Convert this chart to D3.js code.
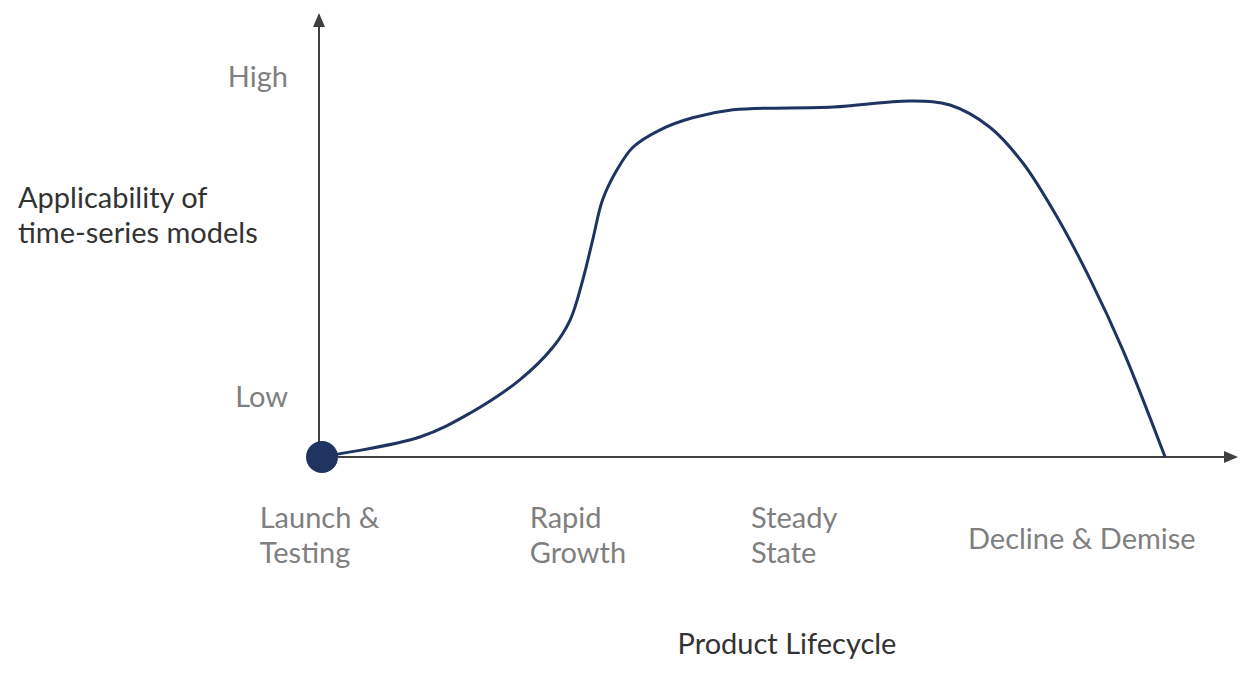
<!DOCTYPE html>
<html>
<head>
<meta charset="utf-8">
<script src="https://cdn.jsdelivr.net/npm/d3@7"></script>
<style>
  body { margin: 0; background: #fff; }
  text { font-family: Lato, "Open Sans", sans-serif; }
</style>
</head>
<body>
<div id="chart"></div>
<script>
// lifecycle curve, x = time (stage units), y = applicability (0..10)
var curveX = [0, 1.11, 1.67, 2.22, 2.59, 2.78, 2.92, 3.03, 3.14, 3.30, 3.48, 3.78, 4.14, 4.59, 5.70, 6.56, 7.0, 7.44, 7.81, 8.19, 8.56, 8.92, 9.39]
var curveY = [0, 0.5, 1.1, 1.93, 2.75, 3.43, 4.43, 5.43, 6.43, 7.18, 7.75, 8.18, 8.48, 8.68, 8.75, 8.9, 8.8, 8.25, 7.35, 6.0, 4.43, 2.68, 0]

var stages = [["Launch &", "Testing"], ["Rapid", "Growth"], ["Steady", "State"], ["Decline & Demise"]]
var stageAt = [-0.67, 2.33, 4.79, 7.2]

var levelLabels = ["Low", "High"]
var levelValues = [1.5, 9.5]

var width = 1249, height = 678
var axisColor = "#404040", lineColor = "#1f3461", grey = "#7f7f7f", dark = "#333333"
var fontSize = 29

var svg = d3.select("#chart").append("svg")
    .attr("width", width)
    .attr("height", height)

var x = d3.scaleLinear().domain([0, 10]).range([320, 1220])
var y = d3.scaleLinear().domain([0, 10]).range([457, 57])

// axes
svg.append("line")
    .attr("x1", 319).attr("x2", 319)
    .attr("y1", y(0)).attr("y2", 24)
    .attr("stroke", axisColor).attr("stroke-width", 2)
svg.append("path")
    .attr("d", "M319,13 L313,27 L325,27 Z")
    .attr("fill", axisColor)

svg.append("line")
    .attr("x1", 319).attr("x2", 1227)
    .attr("y1", y(0)).attr("y2", y(0))
    .attr("stroke", axisColor).attr("stroke-width", 2)
svg.append("path")
    .attr("d", "M1238," + y(0) + " L1224," + (y(0) - 6) + " L1224," + (y(0) + 6) + " Z")
    .attr("fill", axisColor)

// curve
var pts = curveX.map((d, i) => [d, curveY[i]])
var line = d3.line()
    .x(d => x(d[0]))
    .y(d => y(d[1]))
    .curve(d3.curveCatmullRom.alpha(0.5))

svg.append("path")
    .datum(pts)
    .attr("d", line)
    .attr("fill", "none")
    .attr("stroke", lineColor)
    .attr("stroke-width", 3)

svg.append("circle")
    .attr("cx", x(0) + 2)
    .attr("cy", y(0))
    .attr("r", 16)
    .attr("fill", lineColor)

// level labels
svg.selectAll(".level")
    .data(levelLabels)
    .enter().append("text")
    .attr("class", "level")
    .attr("x", 288)
    .attr("y", (d, i) => y(levelValues[i]))
    .attr("dy", "0.35em")
    .attr("text-anchor", "end")
    .attr("fill", grey)
    .attr("font-size", fontSize)
    .text(d => d)

// stage labels
var stageG = svg.selectAll(".stage")
    .data(stages)
    .enter().append("text")
    .attr("class", "stage")
    .attr("fill", grey)
    .attr("font-size", fontSize)

stageG.each(function(d, i) {
    var t = d3.select(this)
    var top = d.length == 1 ? 539 : 518
    d.forEach((s, j) => {
        t.append("tspan")
            .attr("x", x(stageAt[i]))
            .attr("y", top + j * 35)
            .attr("dy", "0.35em")
            .text(s)
    })
})

// axis titles
var yTitle = svg.append("text")
    .attr("fill", dark)
    .attr("font-size", fontSize)
;["Applicability of", "time-series models"].forEach((s, j) => {
    yTitle.append("tspan")
        .attr("x", 18)
        .attr("y", 198 + j * 35)
        .attr("dy", "0.35em")
        .text(s)
})

svg.append("text")
    .attr("x", 787)
    .attr("y", 644)
    .attr("dy", "0.35em")
    .attr("text-anchor", "middle")
    .attr("fill", dark)
    .attr("font-size", fontSize)
    .text("Product Lifecycle")
</script>
</body>
</html>
